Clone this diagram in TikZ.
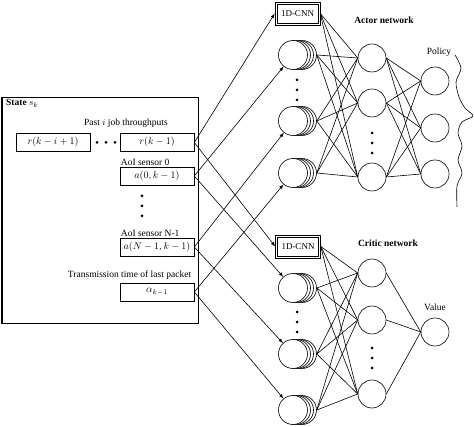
\documentclass[tikz,border=0pt]{standalone}
\usepackage{amsmath}
\usepackage{fontspec}
\setmainfont{Liberation Serif}
\usetikzlibrary{positioning,shadows}
\tikzset{
    in-box/.style = {draw, line width=0.6pt, rectangle, minimum width=74pt, minimum height=18pt, inner sep=1pt, font=\fontsize{10}{12}\selectfont},
    cnn-box/.style = {draw, line width=0.6pt, rectangle, minimum width=45pt, minimum height=23pt, inner sep=1pt, fill=white, font=\fontsize{9}{10}\selectfont,
        path picture={\draw[line width=0.5pt] ([shift={(2pt,-2pt)}]path picture bounding box.north west) rectangle ([shift={(-2pt,2pt)}]path picture bounding box.south east);}},
    neuron/.style = {draw, circle, line width=0.6pt, minimum size=28pt, inner sep=0pt, fill=white},
    stacked/.style = {neuron, minimum size=29pt,
        copy shadow={shadow xshift=9pt, shadow yshift=0pt},
        copy shadow={shadow xshift=6pt, shadow yshift=0pt},
        copy shadow={shadow xshift=3pt, shadow yshift=0pt}},
    dot/.style = {fill, circle, inner sep=0pt, minimum size=3pt},
    title/.style = {font=\bfseries\fontsize{9.5}{11}\selectfont, inner sep=1pt},
    label-text/.style = {font=\fontsize{9.5}{11}\selectfont, inner sep=1pt},
    link/.style = {line width=0.6pt},
    feed/.style = {line width=0.6pt, -latex},
}

\begin{document}
\begin{tikzpicture}[x=1pt, y=-1pt]
\useasboundingbox (0,0) rectangle (474,427);

% state box
\node[draw, line width=0.6pt, minimum width=197pt, minimum height=226pt, anchor=north west, inner sep=0pt] (state) at (1,97) {};
\draw[line width=2pt] ([xshift=1pt]state.north west) -- ([xshift=1pt]state.south west);
\node[title, anchor=north west] (state-title) at (5,98) {State $s_k$};

\node[in-box] (rA) at (53,142.5) {$r(k-i+1)$};
\node[in-box] (r1) at (157,142.5) {$r(k-1)$};
\node[label-text] (past-label) at (126,123) {Past $i$ job throughputs};
\foreach \x [count=\n] in {97,106,115} \node[dot] (hdot\n) at (\x,142.5) {};

\node[in-box] (a0) at (157,176) {$a(0,k-1)$};
\node[label-text, anchor=south west] (a0-label) at (a0.north west) {AoI sensor 0};
\foreach \y [count=\n] in {196,206,216} \node[dot] (vdot\n) at (142,\y) {};

\node[in-box] (aN) at (157,247) {$a(N-1,k-1)$};
\node[label-text, anchor=south west] (aN-label) at (aN.north west) {AoI sensor N-1};

\node[in-box] (alpha) at (157,292) {$\alpha_{k-1}$};
\node[label-text, anchor=south east] (alpha-label) at ([xshift=-2pt,yshift=2pt]alpha.north east) {Transmission time of last packet};

% actor network
\node[cnn-box] (cnnA) at (297.5,13.5) {1D-CNN};
\node[title] (actor-title) at (384,20) {Actor network};
\node[stacked] (a1) at (293,55) {};
\node[stacked] (a2) at (293,121) {};
\node[stacked] (a3) at (293,173) {};
\foreach \y [count=\n] in {80,90,100} \node[dot] (adot\n) at (297,\y) {};
\node[neuron] (ha1) at (372,58) {};
\node[neuron] (ha2) at (372,103) {};
\node[neuron] (ha3) at (372,177) {};
\foreach \y [count=\n] in {133,143,153} \node[dot] (hadot\n) at (372,\y) {};
\node[neuron] (pa1) at (435,81) {};
\node[neuron] (pa2) at (435,128) {};
\node[neuron] (pa3) at (435,174) {};
\node[label-text] (policy-label) at (439,52) {Policy};
\draw[line width=0.6pt] plot[smooth] coordinates {(455,55) (461,68) (456,82) (459,97) (465,108) (473,116) (462,122) (458,133) (462,146) (458,160) (462,173) (457,186) (457,207)};

% critic network
\node[cnn-box] (cnnC) at (298,246.5) {1D-CNN};
\node[title] (critic-title) at (388,243) {Critic network};
\node[stacked] (c1) at (293,288) {};
\node[stacked] (c2) at (293,354) {};
\node[stacked] (c3) at (293,410) {};
\foreach \y [count=\n] in {312,322,332} \node[dot] (cdot\n) at (297,\y) {};
\node[neuron] (hc1) at (372,273) {};
\node[neuron] (hc2) at (372,320) {};
\node[neuron] (hc3) at (372,394) {};
\foreach \y [count=\n] in {348,358,368} \node[dot] (hcdot\n) at (372,\y) {};
\node[neuron] (value) at (435,332) {};
\node[label-text] (value-label) at (435,307) {Value};

% inputs
\draw[feed] (r1.east) -- (cnnA.west);
\draw[feed] (r1.east) -- (cnnC.west);
\draw[feed] (a0.east) -- (a1);
\draw[feed] (a0.east) -- (c1);
\draw[feed] (aN.east) -- (a2);
\draw[feed] (aN.east) -- (c2);
\draw[feed] (alpha.east) -- (a3);
\draw[feed] (alpha.east) -- (c3);

% layers
\foreach \i in {1,2,3} {
    \draw[link] (cnnA.east) -- (ha\i.west);
    \draw[link] (cnnC.east) -- (hc\i.west);
    \draw[link] (hc\i.east) -- (value.west);
    \foreach \j in {1,2,3} {
        \draw[link] ([xshift=9pt]a\j.east) -- (ha\i.west);
        \draw[link] (ha\j.east) -- (pa\i.west);
        \draw[link] ([xshift=9pt]c\j.east) -- (hc\i.west);
    }
}
\end{tikzpicture}
\end{document}
